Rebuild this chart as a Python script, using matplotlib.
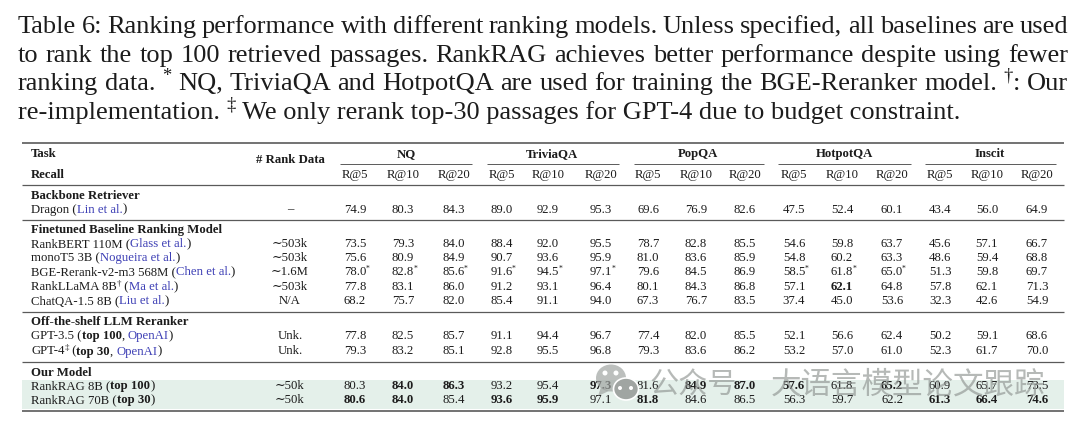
import matplotlib
matplotlib.use('Agg')
import matplotlib.pyplot as plt
from matplotlib.patches import Ellipse, Polygon, Rectangle

SERIF = ['Liberation Serif', 'DejaVu Serif']
CJK = ['Noto Sans CJK SC', 'DejaVu Sans']
INK = '#1c1c1c'
BLUE = '#3d3fb5'
RULE = '#5a5a5a'
TS = 9.2

# table contents
datasets = ['NQ', 'TriviaQA', 'PopQA', 'HotpotQA', 'Inscit']
recalls = ['R@5', 'R@10', 'R@20'] * 5

dragon = ['74.9', '80.3', '84.3', '89.0', '92.9', '95.3', '69.6', '76.9', '82.6', '47.5', '52.4', '60.1', '43.4', '56.0', '64.9']
rankbert = ['73.5', '79.3', '84.0', '88.4', '92.0', '95.5', '78.7', '82.8', '85.5', '54.6', '59.8', '63.7', '45.6', '57.1', '66.7']
monot5 = ['75.6', '80.9', '84.9', '90.7', '93.6', '95.9', '81.0', '83.6', '85.9', '54.8', '60.2', '63.3', '48.6', '59.4', '68.8']
bge = ['78.0', '82.8', '85.6', '91.6', '94.5', '97.1', '79.6', '84.5', '86.9', '58.5', '61.8', '65.0', '51.3', '59.8', '69.7']
ranklama = ['77.8', '83.1', '86.0', '91.2', '93.1', '96.4', '80.1', '84.3', '86.8', '57.1', '62.1', '64.8', '57.8', '62.1', '71.3']
chatqa = ['68.2', '75.7', '82.0', '85.4', '91.1', '94.0', '67.3', '76.7', '83.5', '37.4', '45.0', '53.6', '32.3', '42.6', '54.9']
gpt35 = ['77.8', '82.5', '85.7', '91.1', '94.4', '96.7', '77.4', '82.0', '85.5', '52.1', '56.6', '62.4', '50.2', '59.1', '68.6']
gpt4 = ['79.3', '83.2', '85.1', '92.8', '95.5', '96.8', '79.3', '83.6', '86.2', '53.2', '57.0', '61.0', '52.3', '61.7', '70.0']
rankrag8 = ['80.3', '84.0', '86.3', '93.2', '95.4', '97.3', '81.6', '84.9', '87.0', '57.6', '61.8', '65.2', '60.9', '65.7', '73.5']
rankrag70 = ['80.6', '84.0', '85.4', '93.6', '95.9', '97.1', '81.8', '84.6', '86.5', '56.3', '59.7', '62.2', '61.3', '66.4', '74.6']

# which cells are bold or starred (column index)
bold_llama = [10]
bold_8 = [1, 2, 5, 7, 8, 9, 11]
bold_70 = [0, 1, 3, 4, 6, 12, 13, 14]
star_bge = [0, 1, 2, 3, 4, 5, 9, 10, 11]

# layout in pixels of the reference
col_x = [355, 403, 454, 502, 548, 601, 648, 696, 745, 794, 842, 892, 940, 987, 1037]
group_x = [406, 552, 698, 845, 990]
cmid = [(340, 472), (487, 619), (634, 764), (778, 911), (925, 1056)]
rank_x = 290
label_x = 31
left, right = 22, 1064

fig = plt.figure(figsize=(10.8, 4.28), dpi=100)
ax = fig.add_axes([0, 0, 1, 1])
ax.set_xlim(0, 1080)
ax.set_ylim(428, 0)
ax.axis('off')
fig.canvas.draw()
renderer = fig.canvas.get_renderer()


def width_of(s, size, weight='normal'):
	# padded with x so that spaces at the ends get measured too
	probe = ax.text(0, 0, 'x' + s + 'x', fontsize=size, fontweight=weight, family=SERIF)
	w1 = probe.get_window_extent(renderer).width
	probe.set_text('xx')
	w0 = probe.get_window_extent(renderer).width
	probe.remove()
	return w1 - w0


def runs(x, y, parts, size=TS):
	# parts: (string, style), style is any of n b l s
	for s, style in parts:
		fs = size * 0.7 if style == 's' else size
		yy = y - size * 0.48 if style == 's' else y
		weight = 'bold' if style == 'b' else 'normal'
		color = BLUE if style == 'l' else INK
		ax.text(x, yy, s, fontsize=fs, fontweight=weight, color=color, family=SERIF, va='baseline', ha='left')
		x += width_of(s, fs, weight)
	return x


def justified(y, parts, x0, x1, size):
	# stretch the word gaps so the line fills x0..x1, like the caption of the paper
	words = []
	pending = False
	for s, style in parts:
		pieces = s.split(' ')
		for i, w in enumerate(pieces):
			if i > 0:
				pending = True
			if w:
				words.append((w, style, pending and len(words) > 0))
				pending = False
	total = 0
	gaps = 0
	for w, style, gap in words:
		fs = size * 0.7 if style == 's' else size
		total += width_of(w, fs)
		gaps += 1 if gap else 0
	space = (x1 - x0 - total) / gaps
	x = x0
	for w, style, gap in words:
		if gap:
			x += space
		x = runs(x, y, [(w, style)], size)


# caption
cap_size = 19.0
justified(33, [('Table 6: Ranking performance with different ranking models. Unless specified, all baselines are used', 'n')], 18, 1068, cap_size)
justified(62, [('to rank the top 100 retrieved passages. RankRAG achieves better performance despite using fewer', 'n')], 18, 1068, cap_size)
justified(90, [('ranking data. ', 'n'), ('*', 's'), (' NQ, TriviaQA and HotpotQA are used for training the BGE-Reranker model. ', 'n'), ('†', 's'), (': Our', 'n')], 18, 1068, cap_size)
runs(runs(runs(18, 119, [('re-implementation. ', 'n')], cap_size), 119, [('‡', 's')], cap_size), 119, [(' We only rerank top-30 passages for GPT-4 due to budget constraint.', 'n')], cap_size)

# green band behind our model, then the rules
ax.add_patch(Rectangle((left, 380), right - left, 28.5, facecolor='#e4f0ea', edgecolor='none', zorder=0))
for y, lw in [(143, 1.2), (185, 0.9), (220, 0.9), (311.5, 0.9), (362, 0.9), (411, 1.2)]:
	ax.plot([left, right], [y, y], color=RULE, lw=lw, solid_capstyle='butt')
for x0, x1 in cmid:
	ax.plot([x0, x1], [164, 164], color=RULE, lw=0.7, solid_capstyle='butt')

# header
runs(label_x, 157, [('Task', 'b')])
runs(label_x, 178, [('Recall', 'b')])
ax.text(rank_x, 160, '# Rank Data', fontsize=TS, fontweight='bold', color=INK, family=SERIF, ha='center', va='center')
for name, x in zip(datasets, group_x):
	ax.text(x, 157, name, fontsize=TS, fontweight='bold', color=INK, family=SERIF, ha='center', va='baseline')
for name, x in zip(recalls, col_x):
	ax.text(x, 178, name, fontsize=TS, color=INK, family=SERIF, ha='center', va='baseline')

# section titles
runs(label_x, 198.5, [('Backbone Retriever', 'b')])
runs(label_x, 233, [('Finetuned Baseline Ranking Model', 'b')])
runs(label_x, 325, [('Off-the-shelf LLM Reranker', 'b')])
runs(label_x, 375.5, [('Our Model', 'b')])

rows = [
	(212.5, [('Dragon (', 'n'), ('Lin et al.', 'l'), (')', 'n')], '–', dragon, [], []),
	(247, [('RankBERT 110M (', 'n'), ('Glass et al.', 'l'), (')', 'n')], '∼503k', rankbert, [], []),
	(261, [('monoT5 3B (', 'n'), ('Nogueira et al.', 'l'), (')', 'n')], '∼503k', monot5, [], []),
	(275, [('BGE-Rerank-v2-m3 568M (', 'n'), ('Chen et al.', 'l'), (')', 'n')], '∼1.6M', bge, [], star_bge),
	(290, [('RankLLaMA 8B', 'n'), ('†', 's'), (' (', 'n'), ('Ma et al.', 'l'), (')', 'n')], '∼503k', ranklama, bold_llama, []),
	(304, [('ChatQA-1.5 8B (', 'n'), ('Liu et al.', 'l'), (')', 'n')], 'N/A', chatqa, [], []),
	(339, [('GPT-3.5 (', 'n'), ('top 100', 'b'), (', ', 'n'), ('OpenAI', 'l'), (')', 'n')], 'Unk.', gpt35, [], []),
	(354.5, [('GPT-4', 'n'), ('‡', 's'), (' (', 'n'), ('top 30', 'b'), (', ', 'n'), ('OpenAI', 'l'), (')', 'n')], 'Unk.', gpt4, [], []),
	(389, [('RankRAG 8B (', 'n'), ('top 100', 'b'), (')', 'n')], '∼50k', rankrag8, bold_8, []),
	(403, [('RankRAG 70B (', 'n'), ('top 30', 'b'), (')', 'n')], '∼50k', rankrag70, bold_70, []),
]
for y, label, rank, values, bolds, stars in rows:
	runs(label_x, y, label)
	ax.text(rank_x, y, rank, fontsize=TS, color=INK, family=SERIF, ha='center', va='baseline')
	for i, v in enumerate(values):
		weight = 'bold' if i in bolds else 'normal'
		ax.text(col_x[i], y, v, fontsize=TS, fontweight=weight, color=INK, family=SERIF, ha='center', va='baseline')
		if i in stars:
			ax.text(col_x[i] + width_of(v, TS) / 2 - 1, y - 4, '*', fontsize=5.5, color=INK, family=SERIF, ha='left', va='baseline')

# watermark over the table
wm = '#a0a5a2'
ax.add_patch(Ellipse((611, 378), 30, 27, facecolor=wm, edgecolor='none', alpha=0.7, zorder=5))
ax.add_patch(Polygon([(601, 387), (598, 396), (609, 391)], facecolor=wm, edgecolor='none', alpha=0.7, zorder=5))
ax.add_patch(Ellipse((626, 389), 25, 22, facecolor=wm, edgecolor='white', lw=1.2, zorder=6))
for x, y, s in [(605, 373, 5), (616, 373, 5), (620, 388, 4), (631, 388, 4)]:
	ax.add_patch(Ellipse((x, y), s, s, facecolor='white', edgecolor='none', zorder=7))
ax.text(650, 394, '公众号', fontsize=21, color='#8f9491', alpha=0.65, family=CJK, ha='left', va='baseline', zorder=7)
ax.text(771, 394, '大语言模型论文跟踪', fontsize=22, color='#8f9491', alpha=0.65, family=CJK, ha='left', va='baseline', zorder=7)

fig.savefig('out.png', dpi=100, facecolor='white')
